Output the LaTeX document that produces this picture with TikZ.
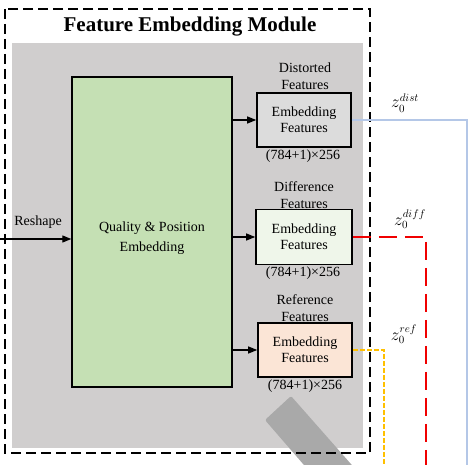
\documentclass[tikz,border=0pt]{standalone}
\usepackage{fontspec}
\setmainfont{Liberation Serif}
\usetikzlibrary{arrows.meta}

\definecolor{modgray}{HTML}{D0CECE}
\definecolor{bandgray}{HTML}{A9A9A9}
\definecolor{qpgreen}{HTML}{C5E0B4}
\definecolor{distfill}{HTML}{DCDCDC}
\definecolor{difffill}{HTML}{EFF6EA}
\definecolor{reffill}{HTML}{FBE5D6}
\definecolor{distblue}{HTML}{B4C7E7}
\definecolor{diffred}{HTML}{F00000}
\definecolor{refyellow}{HTML}{FFC000}

\begin{document}
\begin{tikzpicture}[
    x=1pt,
    y=-1pt,
    embbox/.style={
      draw,
      line width=1.6pt,
      minimum width=94pt,
      minimum height=54pt,
      inner sep=0pt,
      align=center,
      font=\fontsize{14}{16}\selectfont
    },
    lbl/.style={
      align=center,
      inner sep=0pt,
      font=\fontsize{14}{17}\selectfont
    },
    zlbl/.style={
      inner sep=0pt,
      font=\fontsize{16}{18}\selectfont
    },
    arr/.style={
      -{Triangle[length=9pt,width=7pt]},
      line width=1.2pt
    }
  ]
    \useasboundingbox (0,0) rectangle (474,465);

    \fill[modgray] (12,43) rectangle (363,448);
    \fill[bandgray, rounded corners=2pt] (291,396) -- (358,472) -- (310,472) -- (265,420) -- cycle;
    \draw[line width=1.8pt, dash pattern=on 10pt off 5pt] (5,9) rectangle (370,453);

    \node[font=\bfseries\fontsize{21}{24}\selectfont] (title) at (190,27) {Feature Embedding Module};

    \node[draw, fill=qpgreen, line width=1.4pt, minimum width=160pt, minimum height=310pt,
      align=center, font=\fontsize{14}{20}\selectfont] (qpe) at (152,232) {};
    \node[lbl, font=\fontsize{14}{20}\selectfont] (qpetext) at (152,238) {Quality \& Position\\Embedding};

    \node[embbox, fill=distfill] (dist) at (304,120) {Embedding\\Features};
    \node[embbox, fill=difffill, minimum width=96pt, minimum height=55pt] (diff) at (304,237) {Embedding\\Features};
    \node[embbox, fill=reffill] (ref) at (305,350) {Embedding\\Features};

    \node[lbl] (distname) at (305,76) {Distorted\\Features};
    \node[lbl] (diffname) at (304,195) {Difference\\Features};
    \node[lbl] (refname) at (305,308) {Reference\\Features};

    \node[lbl] (distsize) at (303,156) {(784+1)×256};
    \node[lbl] (diffsize) at (303,273) {(784+1)×256};
    \node[lbl] (refsize) at (305,386) {(784+1)×256};

    \coordinate (input) at (0,239);
    \node[lbl] (reshape) at (38,222) {Reshape};
    \draw[arr] (input) -- (qpe.west |- input);

    \draw[arr] (qpe.east |- dist.west) -- (dist.west);
    \draw[arr] (qpe.east |- diff.west) -- (diff.west);
    \draw[arr] (qpe.east |- ref.west) -- (ref.west);

    \coordinate (distend) at (467,468);
    \coordinate (diffend) at (426,468);
    \coordinate (refend) at (384,468);
    \draw[distblue, line width=2pt] (dist.east) -| (distend);
    \draw[diffred, line width=2.6pt, dash pattern=on 18pt off 8pt] (diff.east) -| (diffend);
    \draw[refyellow, line width=2pt, dash pattern=on 5pt off 2pt] (ref.east) -| (refend);

    \node[zlbl] (zdist) at (405,103) {$z_0^{dist}$};
    \node[zlbl] (zdiff) at (410,219) {$z_0^{diff}$};
    \node[zlbl] (zref) at (404,334) {$z_0^{ref}$};
  \end{tikzpicture}
\end{document}
